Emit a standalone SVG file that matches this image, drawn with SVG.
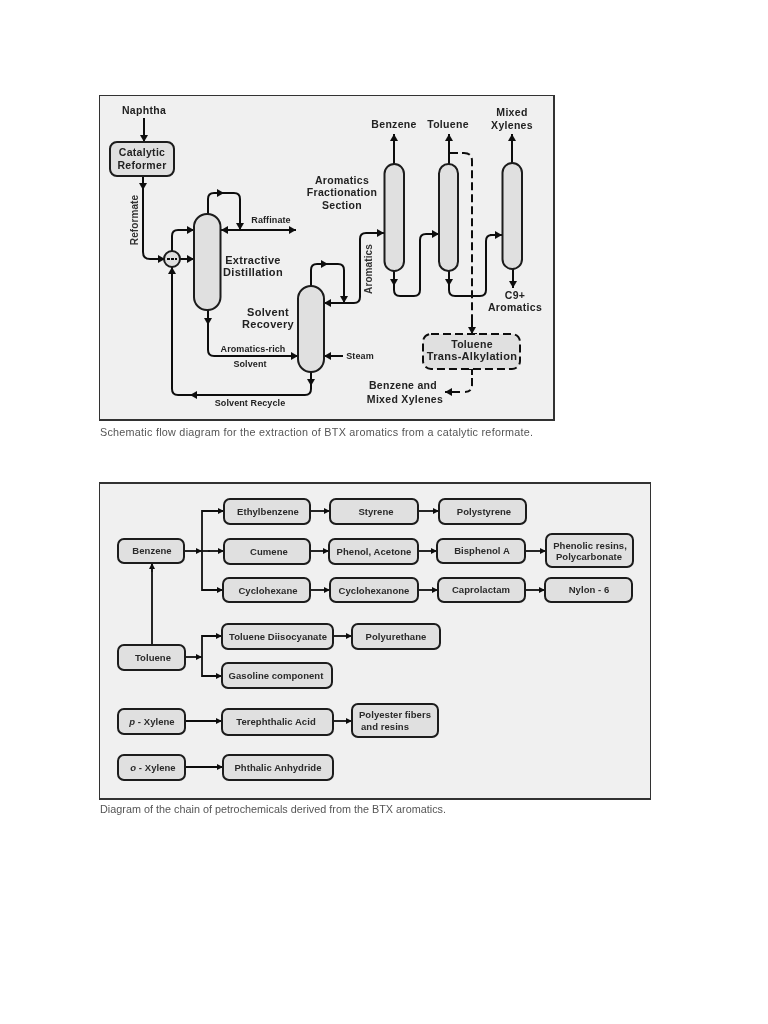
<svg xmlns="http://www.w3.org/2000/svg" width="768" height="1024" viewBox="0 0 768 1024">
<style>
text{font-family:"Liberation Sans",Arial,sans-serif;font-weight:bold;fill:#222;text-anchor:middle}
.t{font-size:10.5px;letter-spacing:.3px}
.s{font-size:9px;letter-spacing:.1px}
.r{font-size:10px;letter-spacing:.1px;fill:#333}
.n{font-size:9.5px;letter-spacing:.05px;fill:#2a2a2a}
.cap{font-size:10.800px;font-weight:normal;fill:#555;text-anchor:start}
.panel{fill:#f0f0f0;stroke:#333;stroke-width:2}
.box{fill:#e0e0e0;stroke:#1a1a1a;stroke-width:2}
.col{fill:#e0e0e0;stroke:#1a1a1a;stroke-width:2}
.l{fill:none;stroke:#111;stroke-width:2}
.m{fill:none;stroke:#111;stroke-width:1.8}
.d{fill:none;stroke:#111;stroke-width:2;stroke-dasharray:8 4}
.h{fill:none;stroke:#111;stroke-width:2;marker-end:url(#a)}
.k{fill:none;stroke:#111;stroke-width:1.8;marker-end:url(#b)}
</style>
<defs>
<marker id="a" markerUnits="userSpaceOnUse" markerWidth="8" markerHeight="8" refX="7" refY="4" orient="auto"><path d="M0 0L7 4L0 8z" fill="#111"/></marker>
<marker id="b" markerUnits="userSpaceOnUse" markerWidth="7" markerHeight="7" refX="6" refY="3.5" orient="auto"><path d="M0 .5L6 3.5L0 6.500z" fill="#111"/></marker>
<filter id="soft" x="0" y="0" width="100%" height="100%"><feGaussianBlur stdDeviation="0.4"/></filter>
</defs>
<rect width="768" height="1024" fill="#fff"/>
<g filter="url(#soft)">
<rect class="panel" x="99" y="95" width="455" height="325"/>
<rect class="panel" x="99" y="483" width="552" height="316"/>

<g id="connectors-top">
<path class="h" d="M144 118V142"/>
<path class="l" d="M143 176V252Q143 259 150 259H164"/>
<path class="h" d="M143 176V190"/>
<path class="h" d="M150 259H165"/>
<path class="l" d="M172 251V236Q172 230 178 230H194"/>
<path class="h" d="M180 230H194"/>
<path class="h" d="M180 259H194"/>
<path class="l" d="M208 214V199Q208 193 214 193H234Q240 193 240 199V230"/>
<path class="h" d="M214 193H224"/>
<path class="h" d="M240 218V230"/>
<path class="h" d="M235 230H221"/>
<path class="h" d="M235 230H296"/>
<path class="l" d="M208 310V350Q208 356 214 356H298"/>
<path class="h" d="M208 310V325"/>
<path class="h" d="M280 356H298"/>
<path class="l" d="M311 372V389Q311 395 305 395H178Q172 395 172 389V267"/>
<path class="h" d="M311 372V386"/>
<path class="h" d="M207 395H190"/>
<path class="h" d="M172 280V267"/>
<path class="l" d="M311 286V270Q311 264 317 264H338Q344 264 344 270V303"/>
<path class="h" d="M317 264H328"/>
<path class="h" d="M344 292V303"/>
<path class="l" d="M324 303H354Q360 303 360 297V239Q360 233 366 233H384"/>
<path class="h" d="M336 303H324"/>
<path class="h" d="M372 233H384"/>
<path class="h" d="M343 356H324"/>
<path class="h" d="M394 164V134"/>
<path class="h" d="M449 164V134"/>
<path class="h" d="M512 163V134"/>
<path class="l" d="M394 271V290Q394 296 400 296H414Q420 296 420 290V240Q420 234 426 234H439"/>
<path class="h" d="M394 271V286"/>
<path class="h" d="M428 234H439"/>
<path class="l" d="M449 271V290Q449 296 455 296H480Q486 296 486 290V241Q486 235 492 235H502"/>
<path class="h" d="M449 271V286"/>
<path class="h" d="M490 235H502"/>
<path class="h" d="M513 269V288"/>
<path class="l" d="M449 153H458"/>
<path class="d" d="M462 153H464Q472 153 472 161V326"/>
<path class="h" d="M472 322V334"/>
<path class="l" d="M467 334H477"/>
<path class="l" d="M472 369V375M467 369H477"/>
<path class="d" d="M472 378V385Q472 392 465 392"/>
<path class="h" d="M460 392H445"/>
</g>

<g id="catalytic-reformer"><rect class="box" x="110" y="142" width="64" height="34" rx="7"/><text class="t" x="142" y="156">Catalytic</text><text class="t" x="142" y="169">Reformer</text></g>
<g id="mixer"><circle class="col" cx="172" cy="259" r="8"/><path class="m" d="M167 259H177" stroke-dasharray="3 1"/></g>
<g id="extractive-distillation"><rect class="col" x="194" y="214" width="26.500" height="96" rx="13"/></g>
<g id="solvent-recovery"><rect class="col" x="298" y="286" width="26" height="86" rx="13"/></g>
<g id="benzene-column"><rect class="col" x="384.500" y="164" width="19.500" height="107" rx="9.700"/></g>
<g id="toluene-column"><rect class="col" x="439" y="164" width="19" height="107" rx="9.500"/></g>
<g id="xylene-column"><rect class="col" x="502.500" y="163" width="19.500" height="106" rx="9.700"/></g>
<g id="trans-alkylation"><rect x="423" y="334" width="97" height="35" rx="8" fill="#e0e0e0" stroke="#111" stroke-width="2" stroke-dasharray="8 4"/><text class="t" x="472" y="348">Toluene</text><text class="t" x="472" y="360" style="font-size:11px">Trans-Alkylation</text></g>

<g id="labels-top">
<text class="t" x="144" y="114">Naphtha</text>
<text class="r" transform="translate(138 220) rotate(-90)">Reformate</text>
<text class="s" x="271" y="223">Raffinate</text>
<text class="t" x="253" y="264" style="font-size:11px">Extractive</text>
<text class="t" x="253" y="276" style="font-size:11px">Distillation</text>
<text class="t" x="268" y="316" style="font-size:11px">Solvent</text>
<text class="t" x="268" y="328" style="font-size:11px">Recovery</text>
<text class="s" x="253" y="352">Aromatics-rich</text>
<text class="s" x="250" y="367">Solvent</text>
<text class="s" x="250" y="406">Solvent Recycle</text>
<text class="r" transform="translate(372 269) rotate(-90)">Aromatics</text>
<text class="t" x="342" y="184">Aromatics</text>
<text class="t" x="342" y="196">Fractionation</text>
<text class="t" x="342" y="209">Section</text>
<text class="t" x="394" y="128">Benzene</text>
<text class="t" x="448" y="128">Toluene</text>
<text class="t" x="512" y="116">Mixed</text>
<text class="t" x="512" y="129">Xylenes</text>
<text class="t" x="515" y="299">C9+</text>
<text class="t" x="515" y="311">Aromatics</text>
<text class="t" x="403" y="389">Benzene and</text>
<text class="t" x="405" y="403">Mixed Xylenes</text>
<text class="s" x="360" y="359">Steam</text>
</g>

<g id="connectors-bottom">
<path class="m" d="M152 645V563"/>
<path class="k" d="M152 572V563"/>
<path class="k" d="M185 551H202"/>
<path class="m" d="M202 551H210"/>
<path class="k" d="M208 551H224"/>
<path class="m" d="M224 511H202V590H223"/>
<path class="k" d="M210 511H224"/>
<path class="k" d="M210 590H223"/>
<path class="k" d="M310 511H330"/>
<path class="k" d="M418 511H439"/>
<path class="k" d="M310 551H329"/>
<path class="k" d="M418 551H437"/>
<path class="k" d="M525 551H546"/>
<path class="k" d="M310 590H330"/>
<path class="k" d="M418 590H438"/>
<path class="k" d="M525 590H545"/>
<path class="k" d="M185 657H202"/>
<path class="m" d="M222 636H202V676H222"/>
<path class="k" d="M208 636H222"/>
<path class="k" d="M208 676H222"/>
<path class="k" d="M333 636H352"/>
<path class="k" d="M185 721H222"/>
<path class="k" d="M333 721H352"/>
<path class="k" d="M185 767H223"/>
</g>

<g id="benzene"><rect class="box" x="118" y="539" width="66" height="24" rx="6"/><text class="n" x="152" y="554">Benzene</text></g>
<g id="ethylbenzene"><rect class="box" x="224" y="499" width="86" height="25" rx="6"/><text class="n" x="268" y="515">Ethylbenzene</text></g>
<g id="styrene"><rect class="box" x="330" y="499" width="88" height="25" rx="6"/><text class="n" x="376" y="515">Styrene</text></g>
<g id="polystyrene"><rect class="box" x="439" y="499" width="87" height="25" rx="6"/><text class="n" x="484" y="515">Polystyrene</text></g>
<g id="cumene"><rect class="box" x="224" y="539" width="86" height="25" rx="6"/><text class="n" x="269" y="555">Cumene</text></g>
<g id="phenol-acetone"><rect class="box" x="329" y="539" width="89" height="25" rx="6"/><text class="n" x="374" y="555">Phenol, Acetone</text></g>
<g id="bisphenol-a"><rect class="box" x="437" y="539" width="88" height="24" rx="6"/><text class="n" x="482" y="554">Bisphenol A</text></g>
<g id="phenolic-resins"><rect class="box" x="546" y="534" width="87" height="33" rx="6"/><text class="n" x="590" y="549">Phenolic resins,</text><text class="n" x="589" y="560">Polycarbonate</text></g>
<g id="cyclohexane"><rect class="box" x="223" y="578" width="87" height="24" rx="6"/><text class="n" x="268" y="594">Cyclohexane</text></g>
<g id="cyclohexanone"><rect class="box" x="330" y="578" width="88" height="24" rx="6"/><text class="n" x="374" y="594">Cyclohexanone</text></g>
<g id="caprolactam"><rect class="box" x="438" y="578" width="87" height="24" rx="6"/><text class="n" x="481" y="593">Caprolactam</text></g>
<g id="nylon-6"><rect class="box" x="545" y="578" width="87" height="24" rx="6"/><text class="n" x="589" y="593">Nylon - 6</text></g>
<g id="toluene"><rect class="box" x="118" y="645" width="67" height="25" rx="6"/><text class="n" x="153" y="661">Toluene</text></g>
<g id="toluene-diisocyanate"><rect class="box" x="222" y="624" width="111" height="25" rx="6"/><text class="n" x="278" y="640">Toluene Diisocyanate</text></g>
<g id="polyurethane"><rect class="box" x="352" y="624" width="88" height="25" rx="6"/><text class="n" x="396" y="640">Polyurethane</text></g>
<g id="gasoline-component"><rect class="box" x="222" y="663" width="110" height="25" rx="6"/><text class="n" x="276" y="679">Gasoline component</text></g>
<g id="p-xylene"><rect class="box" x="118" y="709" width="67" height="25" rx="6"/><text class="n" x="152" y="725"><tspan font-style="italic">p</tspan> - Xylene</text></g>
<g id="terephthalic-acid"><rect class="box" x="222" y="709" width="111" height="26" rx="6"/><text class="n" x="276" y="725">Terephthalic Acid</text></g>
<g id="polyester"><rect class="box" x="352" y="704" width="86" height="33" rx="6"/><text class="n" x="395" y="718">Polyester fibers</text><text class="n" x="385" y="730">and resins</text></g>
<g id="o-xylene"><rect class="box" x="118" y="755" width="67" height="25" rx="6"/><text class="n" x="153" y="771"><tspan font-style="italic">o</tspan> - Xylene</text></g>
<g id="phthalic-anhydride"><rect class="box" x="223" y="755" width="110" height="25" rx="6"/><text class="n" x="278" y="771">Phthalic Anhydride</text></g>

<text class="cap" x="100" y="436" textLength="433">Schematic flow diagram for the extraction of BTX aromatics from a catalytic reformate.</text>
<text class="cap" x="100" y="813" textLength="346">Diagram of the chain of petrochemicals derived from the BTX aromatics.</text>
</g>
</svg>
